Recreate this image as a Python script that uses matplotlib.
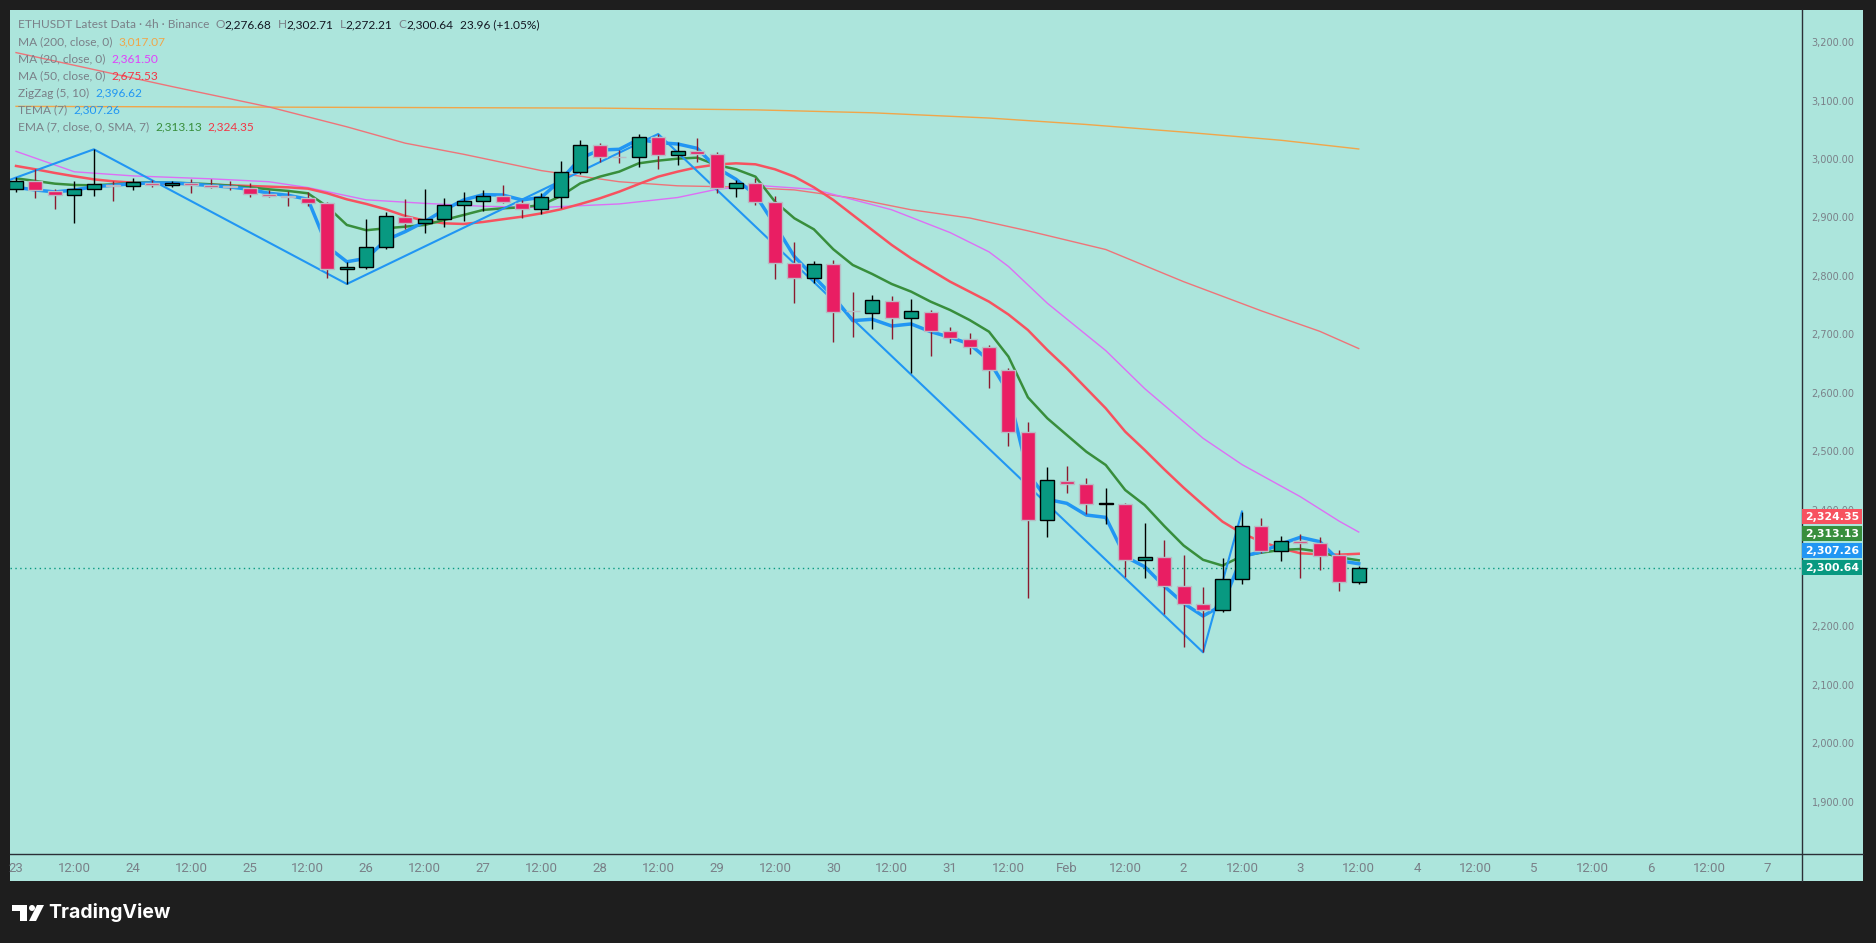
import pandas as pd
import matplotlib
matplotlib.use('Agg')
import matplotlib.pyplot as plt
import matplotlib.ticker as ticker
from matplotlib.patches import Rectangle, Circle, Polygon
from matplotlib.lines import Line2D
from matplotlib.transforms import Affine2D
from matplotlib import font_manager

W, H = 1876, 943

# ---- 4h candles, ETHUSDT, from Jan 23 00:00 ----
opens = [2949.2, 2962.3, 2945.7, 2937.7, 2949.2, 2956.0, 2953.2, 2958.9, 2954.9, 2958.3,
         2954.9, 2953.7, 2949.7, 2939.5, 2936.6, 2933.8, 2924.1, 2811.1, 2814.5, 2848.7,
         2901.2, 2889.8, 2896.7, 2920.6, 2927.5, 2937.2, 2925.2, 2913.8, 2934.3, 2977.1,
         3023.3, 3003.4, 3002.8, 3037.0, 3006.2, 3013.0, 3008.0, 2949.8, 2958.3, 2925.8,
         2821.4, 2795.7, 2819.7, 2739.3, 2737.0, 2757.5, 2727.3, 2738.7, 2705.0, 2692.5,
         2677.6, 2638.2, 2532.1, 2381.5, 2449.4, 2443.1, 2410.2, 2410.0, 2313.0, 2318.2,
         2268.6, 2237.5, 2227.5, 2280.6, 2371.3, 2329.6, 2345.6, 2342.2, 2321.7, 2276.68]
highs = [2969.1, 2982.2, 2948.0, 2961.7, 3016.5, 2962.3, 2966.8, 2964.0, 2962.9, 2965.1,
         2965.7, 2961.7, 2958.3, 2946.9, 2945.7, 2942.9, 2926.9, 2824.2, 2897.3, 2909.8,
         2931.5, 2948.0, 2932.6, 2942.9, 2946.9, 2954.9, 2929.8, 2941.2, 2996.5, 3031.9,
         3027.3, 3015.3, 3042.7, 3042.7, 3029.0, 3035.9, 3012.0, 2964.0, 2968.0, 2936.6,
         2857.9, 2825.4, 2827.1, 2771.8, 2767.2, 2765.5, 2760.4, 2741.0, 2712.4, 2702.2,
         2681.6, 2641.6, 2549.8, 2472.8, 2474.5, 2453.9, 2436.3, 2411.0, 2376.4, 2347.8,
         2322.2, 2268.0, 2316.5, 2396.62, 2385.5, 2354.7, 2358.2, 2353.0, 2330.8, 2302.71]
lows = [2944.0, 2933.8, 2913.8, 2891.0, 2936.6, 2928.6, 2946.9, 2952.6, 2952.6, 2942.3,
        2950.0, 2946.9, 2935.5, 2934.3, 2919.5, 2919.5, 2795.7, 2786.0, 2811.1, 2846.0,
        2879.6, 2873.9, 2884.1, 2894.4, 2911.5, 2924.1, 2898.4, 2905.2, 2916.6, 2975.0,
        2995.4, 2992.5, 2985.7, 2982.2, 2989.1, 2995.4, 2942.3, 2935.5, 2921.8, 2795.2,
        2754.1, 2788.3, 2687.3, 2695.9, 2709.6, 2692.5, 2634.3, 2662.8, 2684.5, 2666.8,
        2608.6, 2509.3, 2249.1, 2353.5, 2428.9, 2392.9, 2375.8, 2285.0, 2283.4, 2221.2,
        2165.3, 2155.6, 2225.0, 2273.2, 2325.1, 2312.5, 2283.4, 2296.6, 2261.2, 2272.21]
closes = [2962.3, 2946.9, 2938.3, 2949.2, 2956.6, 2953.2, 2960.0, 2955.4, 2958.9, 2955.4,
          2951.4, 2952.6, 2940.0, 2936.0, 2934.3, 2924.1, 2811.1, 2814.5, 2848.7, 2901.8,
          2889.8, 2896.7, 2920.6, 2927.5, 2937.2, 2925.8, 2913.8, 2934.3, 2977.1, 3023.3,
          3003.4, 3003.0, 3037.0, 3006.8, 3013.6, 3008.5, 2949.8, 2958.3, 2925.8, 2821.4,
          2795.7, 2819.7, 2738.7, 2739.0, 2758.1, 2727.3, 2739.3, 2705.0, 2693.0, 2678.2,
          2638.5, 2532.1, 2381.5, 2450.0, 2443.7, 2408.9, 2411.0, 2313.0, 2318.2, 2268.6,
          2237.5, 2227.5, 2280.6, 2371.3, 2329.6, 2345.6, 2342.8, 2321.1, 2276.7, 2300.64]

# ---- indicators (one value per bar) ----
tema = [2951.4, 2946.9, 2943.5, 2946.9, 2952.6, 2954.9, 2957.7, 2958.9, 2958.9, 2957.1,
        2954.3, 2952.0, 2948.0, 2941.2, 2937.7, 2930.9, 2850.0, 2824.0, 2830.0, 2861.0,
        2875.6, 2892.7, 2912.7, 2929.8, 2938.9, 2938.3, 2929.8, 2934.3, 2964.0, 3001.1,
        3015.3, 3016.5, 3033.6, 3027.9, 3025.6, 3018.2, 2985.0, 2965.2, 2938.3, 2887.0,
        2832.8, 2798.6, 2764.4, 2723.3, 2725.6, 2714.1, 2717.6, 2704.4, 2694.8, 2683.4,
        2655.0, 2600.0, 2462.0, 2417.4, 2410.6, 2390.6, 2386.6, 2319.3, 2302.2, 2269.0,
        2239.5, 2217.8, 2236.6, 2319.4, 2327.9, 2341.0, 2352.5, 2345.0, 2312.5, 2307.26]
ema7 = [2966.8, 2962.3, 2957.7, 2955.4, 2954.9, 2956.6, 2958.9, 2960.0, 2959.4, 2958.3,
        2956.6, 2954.3, 2951.4, 2948.0, 2945.2, 2941.2, 2918.4, 2887.0, 2878.0, 2881.3,
        2884.1, 2887.0, 2895.5, 2904.1, 2912.7, 2915.5, 2917.2, 2921.2, 2936.6, 2958.3,
        2969.7, 2978.3, 2992.5, 2997.1, 3000.5, 3002.2, 2989.7, 2982.3, 2969.7, 2927.0,
        2898.4, 2879.6, 2845.4, 2818.5, 2803.1, 2786.0, 2772.9, 2755.8, 2741.5, 2724.4,
        2704.4, 2661.7, 2592.0, 2556.1, 2527.5, 2499.0, 2476.2, 2433.4, 2407.7, 2372.0,
        2338.5, 2314.0, 2304.0, 2320.5, 2326.2, 2330.8, 2332.5, 2327.9, 2318.2, 2313.13]
ema_sma = [2988.0, 2982.3, 2976.0, 2970.3, 2965.1, 2961.7, 2959.4, 2958.3, 2957.7, 2957.1,
           2956.0, 2954.9, 2953.7, 2952.6, 2951.4, 2949.2, 2941.2, 2930.9, 2923.0, 2913.8,
           2902.4, 2894.4, 2889.8, 2888.7, 2892.1, 2896.7, 2901.2, 2906.9, 2913.8, 2922.9,
           2932.6, 2944.0, 2957.1, 2969.7, 2978.3, 2985.7, 2990.5, 2992.5, 2990.8, 2982.3,
           2969.7, 2951.5, 2929.8, 2904.1, 2878.4, 2852.8, 2830.0, 2810.0, 2790.0, 2772.9,
           2755.8, 2733.8, 2707.2, 2673.0, 2641.6, 2607.4, 2573.2, 2533.3, 2501.9, 2469.0,
           2437.5, 2408.0, 2379.3, 2359.3, 2345.0, 2333.6, 2325.1, 2323.4, 2322.8, 2324.35]

# slow averages, read at a few bars
ma20_bars = [0, 3, 6, 10, 13, 15, 18, 21, 24, 27, 31, 34, 36, 38, 41, 45, 48, 50, 51, 53,
             56, 58, 61, 63, 66, 68, 69]
ma20_vals = [3013, 2978, 2971, 2966, 2961, 2951, 2930, 2924, 2919, 2917, 2923, 2934, 2948,
             2955, 2948, 2913, 2874, 2841, 2816, 2753, 2672, 2607, 2522, 2477, 2422, 2380,
             2361.50]
ma50_bars = [0, 4, 8, 13, 17, 20, 23, 27, 31, 34, 37, 40, 43, 46, 49, 52, 56, 60, 64, 67, 69]
ma50_vals = [3182, 3153, 3124, 3089, 3055, 3027, 3008, 2980, 2961, 2954, 2952, 2947, 2933,
             2913, 2899, 2877, 2845, 2790, 2740, 2705, 2675.53]
ma200_bars = [0, 10, 20, 30, 38, 44, 50, 55, 60, 65, 69]
ma200_vals = [3090, 3089, 3088, 3087, 3084, 3079, 3070, 3059, 3046, 3032, 3017.07]

zz_bars = [-1, 4, 17, 33, 61, 63]
zz_vals = [2956.0, 3016.5, 2786.0, 3042.7, 2155.6, 2396.62]

price_ticks = list(range(1900, 3201, 100))
tick_times = pd.date_range('2025-01-23 00:00', '2025-02-07 00:00', freq='12h')
tick_labels = ['12:00' if t.hour == 12 else ('Feb' if t.day == 1 else str(t.day))
               for t in tick_times]
tick_bars = [int((t - tick_times[0]) / pd.Timedelta(hours=4)) for t in tick_times]

# ---- colours ----
FRAME = '#1e1e1e'
BG = '#ace5dc'
GRAY = '#7a8088'
UP, DOWN = '#089981', '#e91e63'
DOWN_EDGE, DOWN_WICK = '#b8bcc4', '#8b1a2e'
C_TEMA, C_EMA, C_SMA = '#2196f3', '#388e3c', '#f7525f'
C_MA20, C_MA50, C_MA200 = '#dd6ff5', '#ee7479', '#f0a64a'

names = {f.name for f in font_manager.fontManager.ttflist}
NARROW = 'Liberation Sans Narrow' if 'Liberation Sans Narrow' in names else 'Roboto'
HFAM = 'Lato'

fig = plt.figure(figsize=(W / 100, H / 100), dpi=100, facecolor=FRAME)
px = Affine2D().scale(1 / W, -1 / H).translate(0, 1) + fig.transFigure

fig.patches.append(Rectangle((10, 10), 1853, 871, transform=px, facecolor=BG,
                             edgecolor='none', zorder=-5))

ax = fig.add_axes([10 / W, 1 - 854 / H, 1792 / W, 844 / H])
ax.set_facecolor(BG)
for s in ax.spines.values():
    s.set_visible(False)

x = list(range(len(closes)))

# indicator lines (under the candles)
ax.plot(ma200_bars, ma200_vals, color=C_MA200, lw=1.0, zorder=1)
ax.plot(ma50_bars, ma50_vals, color=C_MA50, lw=1.0, zorder=1)
ax.plot(ma20_bars, ma20_vals, color=C_MA20, lw=1.0, zorder=1)
ax.plot(x, ema_sma, color=C_SMA, lw=1.8, zorder=2)
ax.plot(x, ema7, color=C_EMA, lw=1.8, zorder=2)
ax.plot(zz_bars, zz_vals, color=C_TEMA, lw=1.5, zorder=2)
ax.plot(x, tema, color=C_TEMA, lw=2.5, zorder=3)

# candles
up = [c >= o for o, c in zip(opens, closes)]
bottoms = [min(o, c) for o, c in zip(opens, closes)]
heights = [max(abs(c - o), 0.8) for o, c in zip(opens, closes)]
ax.vlines(x, lows, highs, colors=['#000000' if u else DOWN_WICK for u in up],
          lw=1.0, zorder=4)
ax.bar(x, heights, 0.72, bottom=bottoms, color=[UP if u else DOWN for u in up],
       edgecolor=['#000000' if u else DOWN_EDGE for u in up], linewidth=1.0, zorder=5)

ax.axhline(closes[-1], color=UP, lw=1.0, linestyle=(0, (1, 2.5)), zorder=3)

ax.set_xlim(-0.31, 91.78)
ax.set_ylim(1810.5, 3254.9)

ax.yaxis.tick_right()
ax.set_yticks(price_ticks)
ax.yaxis.set_major_formatter(ticker.StrMethodFormatter('{x:,.2f}'))
ax.tick_params(axis='y', length=0, pad=7, labelsize=7, labelcolor=GRAY)
ax.set_xticks(tick_bars)
ax.set_xticklabels(tick_labels, fontfamily=NARROW)
ax.tick_params(axis='x', length=0, pad=6, labelsize=9.5, labelcolor=GRAY)

# panel separators
fig.add_artist(Line2D([1802, 1802], [10, 881], transform=px, color='#2b2f36', lw=1.0))
fig.add_artist(Line2D([10, 1863], [854, 854], transform=px, color='#2b2f36', lw=1.0))

# price tags on the scale, pushed apart like TradingView does
tags = [(closes[-1], UP), (tema[-1], C_TEMA), (ema7[-1], C_EMA), (ema_sma[-1], C_SMA)]
tags.sort(key=lambda t: t[0])
prev = None
tag_spans = []
for val, col in tags:
    yd = ax.transData.transform((0, val))[1]
    if prev is not None and yd < prev + 17:
        yd = prev + 17
    prev = yd
    tag_spans.append((yd - 7.5, yd + 7.5))
    ytop = H - yd
    fig.patches.append(Rectangle((1802, ytop - 7.5), 60, 15, transform=px,
                                 facecolor=col, edgecolor='none', zorder=5))
    fig.text(1832 / W, 1 - ytop / H, f'{val:,.2f}', color='white', fontsize=7.8,
             fontweight='bold', ha='center', va='center', zorder=6)

# a scale label fully under a tag is not drawn (TradingView hides it too)
for tick_val, lab in zip(price_ticks, ax.get_yticklabels()):
    yd = ax.transData.transform((0, tick_val))[1]
    if any(lo <= yd - 4 and yd + 4 <= hi for lo, hi in tag_spans):
        lab.set_visible(False)

# legend block in the top-left corner
renderer = fig.canvas.get_renderer()
DARK = '#131722'
chg = closes[-1] - opens[-1]
pct = chg / opens[-1] * 100
legend_rows = [
    [('ETHUSDT Latest Data · 4h · Binance', GRAY), None,
     ('O', GRAY), (f'{opens[-1]:,.2f}', DARK), None,
     ('H', GRAY), (f'{highs[-1]:,.2f}', DARK), None,
     ('L', GRAY), (f'{lows[-1]:,.2f}', DARK), None,
     ('C', GRAY), (f'{closes[-1]:,.2f}', DARK), None,
     (f'{chg:.2f} ({pct:+.2f}%)', DARK)],
    [('MA (200, close, 0)', GRAY), None, (f'{ma200_vals[-1]:,.2f}', C_MA200)],
    [('MA (20, close, 0)', GRAY), None, (f'{ma20_vals[-1]:,.2f}', '#e040fb')],
    [('MA (50, close, 0)', GRAY), None, (f'{ma50_vals[-1]:,.2f}', '#f23645')],
    [('ZigZag (5, 10)', GRAY), None, (f'{zz_vals[-1]:,.2f}', C_TEMA)],
    [('TEMA (7)', GRAY), None, (f'{tema[-1]:,.2f}', C_TEMA)],
    [('EMA (7, close, 0, SMA, 7)', GRAY), None, (f'{ema7[-1]:,.2f}', C_EMA), None,
     (f'{ema_sma[-1]:,.2f}', '#f23645')],
]
for row, yrow in zip(legend_rows, [25, 42, 59, 76, 93, 110, 127]):
    xp = 18
    for part in row:
        if part is None:
            xp += 6
            continue
        txt, col = part
        t = fig.text(xp / W, 1 - yrow / H, txt, color=col, fontsize=8.6, family=HFAM,
                     ha='left', va='center', zorder=6)
        xp = t.get_window_extent(renderer).x1

# TradingView mark
fig.patches.append(Rectangle((12, 905), 15, 6, transform=px, facecolor='white', zorder=5))
fig.patches.append(Rectangle((20, 905), 7, 16, transform=px, facecolor='white', zorder=5))
fig.patches.append(Circle((32, 908), 3, transform=px, facecolor='white', zorder=5))
fig.patches.append(Polygon([(37, 905), (44, 905), (36, 921), (29, 921)], closed=True,
                           transform=px, facecolor='white', zorder=5))
fig.text(48 / W, 1 - 913 / H, 'TradingView', color='white', fontsize=14, family='Inter',
         fontweight='bold', ha='left', va='center')

fig.savefig('out.png', dpi=100, facecolor=FRAME)
